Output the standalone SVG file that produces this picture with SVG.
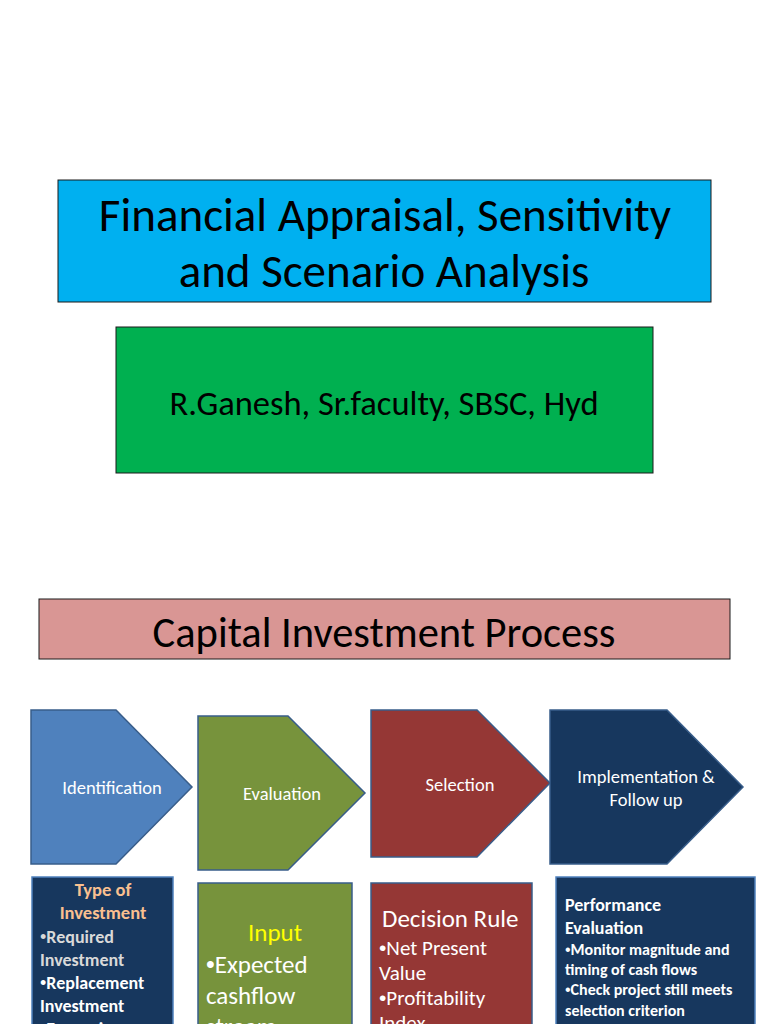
<svg xmlns="http://www.w3.org/2000/svg" width="768" height="1024" viewBox="0 0 768 1024">
<style>
text{font-family:Carlito,Lato,"Open Sans",sans-serif;}
.box{stroke:#1a1a1a;stroke-width:1;}
.chev{stroke:#385D8A;stroke-width:1.5;}
.dk{stroke:#4F81BD;stroke-width:1.5;}
.w{fill:#ffffff;}
.c{text-anchor:middle;}
.lbl{font-size:18.5px;fill:#ffffff;text-anchor:middle;}
.b{font-family:"Liberation Sans",sans-serif;font-weight:normal;}
</style>
<rect width="768" height="1024" fill="#ffffff"/>
<g id="title">
<rect class="box" x="58" y="180" width="653" height="122" fill="#00B0F0"/>
<text class="c" x="385" y="231" font-size="47" fill="#000">Financial Appraisal, Sensitivity</text>
<text class="c" x="384" y="287" font-size="47" fill="#000">and Scenario Analysis</text>
</g>
<g id="author">
<rect class="box" x="116" y="327" width="537" height="146" fill="#00B050"/>
<text class="c" x="384" y="415" font-size="34.5" fill="#000">R.Ganesh, Sr.faculty, SBSC, Hyd</text>
</g>
<g id="process-title">
<rect class="box" x="39" y="599" width="691" height="60" fill="#D99694"/>
<text class="c" x="384" y="647" font-size="42.5" fill="#000">Capital Investment Process</text>
</g>
<g id="identification">
<polygon class="chev" points="31,710 116,710 192,787 116,864 31,864" fill="#4F81BD"/>
<text class="lbl" x="112" y="794">Identification</text>
</g>
<g id="evaluation">
<polygon class="chev" points="198,716 288,716 365,793 288,870 198,870" fill="#77933C"/>
<text class="lbl" x="282" y="800">Evaluation</text>
</g>
<g id="selection">
<polygon class="chev" points="371,710 477,710 550,783 477,857 371,857" fill="#953735"/>
<text class="lbl" x="460" y="791">Selection</text>
</g>
<g id="implementation">
<polygon class="chev" points="550,710 667,710 743,787 667,864 550,864" fill="#17375E"/>
<text class="lbl" x="646" y="783">Implementation &amp;</text>
<text class="lbl" x="646" y="806">Follow up</text>
</g>
<g id="type-of-investment">
<rect class="dk" x="32" y="877" width="141" height="160" fill="#17375E"/>
<text class="c" x="103" y="896" font-size="18.5" font-weight="bold" fill="#FAC090">Type of</text>
<text class="c" x="103" y="919" font-size="18.5" font-weight="bold" fill="#FAC090">Investment</text>
<text x="40" y="943" font-size="18" font-weight="bold" fill="#D9D9D9"><tspan class="b">•</tspan>Required</text>
<text x="40" y="966" font-size="18" font-weight="bold" fill="#D9D9D9">Investment</text>
<text x="40" y="989" font-size="18" font-weight="bold" fill="#ffffff"><tspan class="b">•</tspan>Replacement</text>
<text x="40" y="1012" font-size="18" font-weight="bold" fill="#ffffff">Investment</text>
<text x="40" y="1035" font-size="18" font-weight="bold" fill="#ffffff"><tspan class="b">•</tspan>Expansion</text>
</g>
<g id="input">
<rect class="chev" x="198" y="883" width="154" height="160" fill="#77933C"/>
<text class="c" x="275" y="941" font-size="25" fill="#FFFF00">Input</text>
<text x="206" y="973" font-size="25" class="w"><tspan class="b">•</tspan>Expected</text>
<text x="206" y="1004" font-size="25" class="w">cashflow</text>
<text x="206" y="1035" font-size="25" class="w">stream</text>
</g>
<g id="decision-rule">
<rect class="chev" x="371" y="883" width="161" height="160" fill="#953735"/>
<text x="382" y="927" font-size="25" class="w">Decision Rule</text>
<text x="379" y="955" font-size="21" class="w"><tspan class="b">•</tspan>Net Present</text>
<text x="379" y="980" font-size="21" class="w">Value</text>
<text x="379" y="1005" font-size="21" class="w"><tspan class="b">•</tspan>Profitability</text>
<text x="379" y="1030" font-size="21" class="w">Index</text>
</g>
<g id="performance-evaluation">
<rect class="dk" x="556" y="877" width="199" height="160" fill="#17375E"/>
<text x="565" y="911" font-size="18" font-weight="bold" class="w">Performance</text>
<text x="565" y="934" font-size="18" font-weight="bold" class="w">Evaluation</text>
<text x="565" y="955" font-size="16" font-weight="bold" class="w"><tspan class="b">•</tspan>Monitor magnitude and</text>
<text x="565" y="975" font-size="16" font-weight="bold" class="w">timing of cash flows</text>
<text x="565" y="995" font-size="16" font-weight="bold" class="w"><tspan class="b">•</tspan>Check project still meets</text>
<text x="565" y="1016" font-size="16" font-weight="bold" class="w">selection criterion</text>
</g>
<g id="connectors"></g>
</svg>
